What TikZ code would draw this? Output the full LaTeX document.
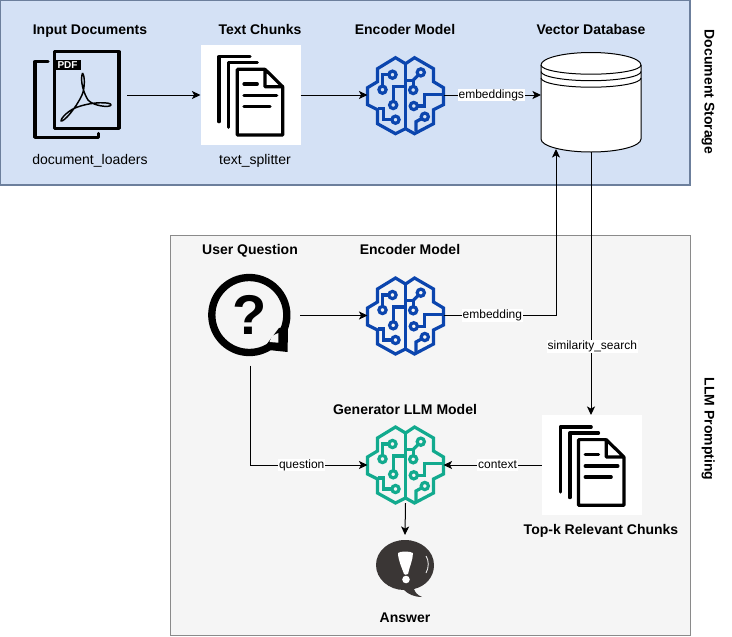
\documentclass[tikz,border=0pt]{standalone}
\usepackage{fontspec}
\setmainfont{Liberation Sans}
\usetikzlibrary{arrows.meta}
\definecolor{panelblue}{HTML}{D4E1F5}
\definecolor{panelblueline}{HTML}{6C7F9C}
\definecolor{panelgray}{HTML}{F5F5F5}
\definecolor{panelgrayline}{HTML}{8A8A8A}
\definecolor{brainblue}{HTML}{0B45AE}
\definecolor{braingreen}{HTML}{12AA8E}
\definecolor{bubble}{HTML}{3A3635}
\tikzset{
  link/.style={draw=black,line width=.75pt,-{Stealth[length=6.4pt,width=6pt,inset=1.6pt]}},
  edgelabel/.style={fill=white,inner sep=.6pt,text height=6.5pt,text depth=2pt,font=\fontsize{9}{10.5}\selectfont},
  title/.style={font=\fontsize{10.5}{12}\selectfont\bfseries,inner sep=0pt,text height=7.5pt,text depth=0pt},
  plain/.style={font=\fontsize{10.5}{12}\selectfont,inner sep=0pt,text height=7.5pt,text depth=0pt},
  anchorbox/.style 2 args={inner sep=0pt,outer sep=0pt,minimum width=#1,minimum height=#2},
  brain/.pic={
    \begin{scope}[line width=2.4pt,line join=miter]
      \draw[pic actions] (0,-32)--(-10,-38)--(-28,-27)--(-28,-14)--(-38,-8)--(-38,9)--(-28,14)--(-28,28)--(-10,38)--(0,33)--(9,38)--(28,28)--(28,14)--(38,9)--(38,-8)--(28,-14)--(28,-27)--(9,-38)--cycle;
      \draw[pic actions] (0,-32)--(0,33);
      \draw[pic actions] (-13,-21) circle[radius=3.6];
      \draw[pic actions] (-23,-6) circle[radius=3.6];
      \draw[pic actions] (-16.6,-21)--(-23,-21)--(-23,-9.6);
      \draw[pic actions] (-12.3,9.3) circle[radius=3.6];
      \draw[pic actions] (-12.3,5.7)--(-12.3,-9)--(0,-9);
      \draw[pic actions] (-28,13)--(-22,13)--(-22,24)--(-13.6,24);
      \draw[pic actions] (-10,24) circle[radius=3.6];
      \draw[pic actions] (15.3,-23.3) circle[radius=3.6];
      \draw[pic actions] (7.7,-5.7) circle[radius=3.6];
      \draw[pic actions] (7.7,-9.3)--(7.7,-15.5)--(0,-15.5);
      \draw[pic actions] (7.7,-15.5)--(13,-20.8);
      \draw[pic actions] (8.3,10.3) circle[radius=3.6];
      \draw[pic actions] (11.9,10.3)--(19,10.3)--(19,-1.5)--(38,-1.5);
      \draw[pic actions] (19.3,21) circle[radius=3.6];
      \draw[pic actions] (16.3,22.8)--(10.5,26)--(10.5,36);
    \end{scope}
  },
  docstack/.pic={
    \fill[white] (-50,-50) rectangle (50,50);
    \begin{scope}[draw=black,line width=2.4pt,line join=round,line cap=round]
      \draw (-0.5,-38.3)--(-31.5,-38.3)--(-31.5,26.7);
      \draw (6.8,-32.3)--(-21.8,-32.3)--(-21.8,32.3);
      \draw (14.5,-25.7)--(-13.2,-25.7)--(-13.2,40)--(32.2,40)--(32.2,-8.3)--(14.5,-25.7)--(14.5,-8.3)--(32.2,-8.3);
      \draw (-6.5,-11)--(6.8,-11);
      \draw (-6.5,.7)--(26.2,.7);
      \draw (-6.5,11.7)--(19.5,11.7);
    \end{scope}
  }
}
\begin{document}
\begin{tikzpicture}[x=.75pt,y=-.75pt]
\useasboundingbox (0,0) rectangle (732,636);
% panels
\path[fill=panelblue,draw=panelblueline,line width=.9pt] (0,0) rectangle (690,185);
\path[fill=panelgray,draw=panelgrayline,line width=.75pt] (170,235) rectangle (690,635);
% anchor nodes for the icons
\node[anchorbox={54pt}{57pt}] (pdf) at (91,95) {};
\node[anchorbox={75pt}{75pt}] (chunks) at (250.5,95) {};
\node[anchorbox={57pt}{57pt}] (enc) at (405.5,95) {};
\node[anchorbox={75pt}{75pt}] (db) at (591,95) {};
\node[anchorbox={75pt}{75pt}] (quest) at (250,315.5) {};
\node[anchorbox={57pt}{57pt}] (encb) at (405.5,315.5) {};
\node[anchorbox={57pt}{57pt}] (gen) at (405.5,465) {};
\node[anchorbox={75pt}{75pt}] (top) at (591.7,465) {};
\node[anchorbox={45pt}{48pt}] (ans) at (405,567) {};
% pdf icon
\begin{scope}[draw=black,line width=2.4pt,line join=round,line cap=round]
  \draw (54.5,51.7) rectangle (119,128.3);
  \draw (48,61.7)--(35,61.7)--(35,137.3)--(98.5,137.3)--(98.5,133.5);
\end{scope}
\fill[black] (54.5,60) rectangle (80.7,70);
\node[font=\fontsize{7.5}{8}\selectfont\bfseries,text=white,inner sep=0pt] (pdftag) at (67.5,65) {PDF};
\draw[black,line width=1.1pt,line join=round]
  (82.5,73) .. controls (80,80) and (83,92) .. (88,100)
  .. controls (93,106) and (110,108) .. (111,105)
  .. controls (112,102) and (92,101) .. (75,108)
  .. controls (66,112) and (60,120) .. (61,121)
  .. controls (64,122) and (76,108) .. (82,95)
  .. controls (85,88) and (85,76) .. (82.5,73);
% pics
\pic at (250.5,95) {docstack};
\pic[draw=brainblue] at (405.5,95.7) {brain};
\pic[draw=brainblue] at (405.5,316) {brain};
\pic[draw=braingreen] at (405.5,465) {brain};
\pic at (591.7,465.3) {docstack};
% database
\path[fill=white,draw=black,line width=.75pt]
  (541,65) arc[start angle=180,end angle=360,x radius=50,y radius=12.5]
  -- (641,139) arc[start angle=0,end angle=180,x radius=50,y radius=13] -- cycle;
\draw[black,line width=.75pt] (541,65) arc[start angle=180,end angle=0,x radius=50,y radius=9.2];
\draw[black,line width=.75pt] (541,71.5) arc[start angle=180,end angle=0,x radius=50,y radius=9.2];
\draw[black,line width=.75pt] (541,78) arc[start angle=180,end angle=0,x radius=50,y radius=9.2];
% question icon
\draw[black,line width=5.5pt] (249.3,315) circle[radius=37.5];
\fill[black] (279,328) -- (288,326) -- (287.6,352) -- (264,349.5) -- (268,342.5) -- cycle;
\fill[panelgray] (272,336) -- (278.3,333) -- (278.3,342.7) -- (269.5,342) -- cycle;
\node[font=\fontsize{42}{44}\selectfont\bfseries,inner sep=0pt] (qmark) at (249.5,315) {?};
% answer bubble
\fill[bubble] (405,540) .. controls (389,540) and (376,551) .. (376,565)
  .. controls (376,579) and (389,590) .. (404,590)
  .. controls (408,594) and (414,597) .. (422,597)
  .. controls (417,595) and (415,592) .. (414,589)
  .. controls (426,586) and (434,577) .. (434,565)
  .. controls (434,551) and (421,540) .. (405,540) -- cycle;
\fill[white] (398,553) .. controls (400,551) and (410,551) .. (413,553)
  .. controls (413,560) and (409,568) .. (408,574)
  .. controls (406,575) and (405,575) .. (404,574)
  .. controls (402,568) and (398,560) .. (398,553) -- cycle;
\fill[white] (406,579.5) circle[radius=3.8];
\draw[white,line width=.6pt] (426,556) .. controls (429,560) and (429,568) .. (426,573);
% connectors
\coordinate (dbin) at (556,149);
\coordinate (dbout) at (591,152);
\coordinate (topin) at (591,415);
\draw[link] (pdf.east) -- (chunks.west);
\draw[link] (chunks.east) -- (enc.west);
\draw[link] (enc.east) -- node[edgelabel,pos=.49] (l1) {embeddings} (db.west);
\draw[link] (encb.east) -- node[edgelabel,pos=.43,xshift=.4pt] (l2) {embedding} (encb.east -| dbin) -- (dbin);
\draw[link] (dbout) -- node[edgelabel,pos=.74,xshift=1pt] (l3) {similarity\_search} (topin);
\draw[link] (quest.east) -- (encb.west);
\draw[link] (quest.south) |- node[edgelabel,pos=.72] (l4) {question} (gen.west);
\draw[link] (top.west) -- node[edgelabel,pos=.45] (l5) {context} (gen.east);
\draw[link] (gen.south) -- (ans.north);
% texts
\node[title] (t1) at (90,29) {Input Documents};
\node[title] (t2) at (260,29) {Text Chunks};
\node[title] (t3) at (405,29) {Encoder Model};
\node[title] (t4) at (591,29) {Vector Database};
\node[plain] (t5) at (90,159) {document\_loaders};
\node[plain] (t6) at (255,159) {text\_splitter};
\node[title] (t7) at (250,249) {User Question};
\node[title] (t8) at (410,249) {Encoder Model};
\node[title] (t9) at (405,409) {Generator LLM Model};
\node[title] (t10) at (601,529) {Top-k Relevant Chunks};
\node[title] (t11) at (405,617) {Answer};
\node[title,rotate=-90] (t12) at (709.5,92) {Document Storage};
\node[title,rotate=-90] (t13) at (709.5,429) {LLM Prompting};
\end{tikzpicture}
\end{document}
